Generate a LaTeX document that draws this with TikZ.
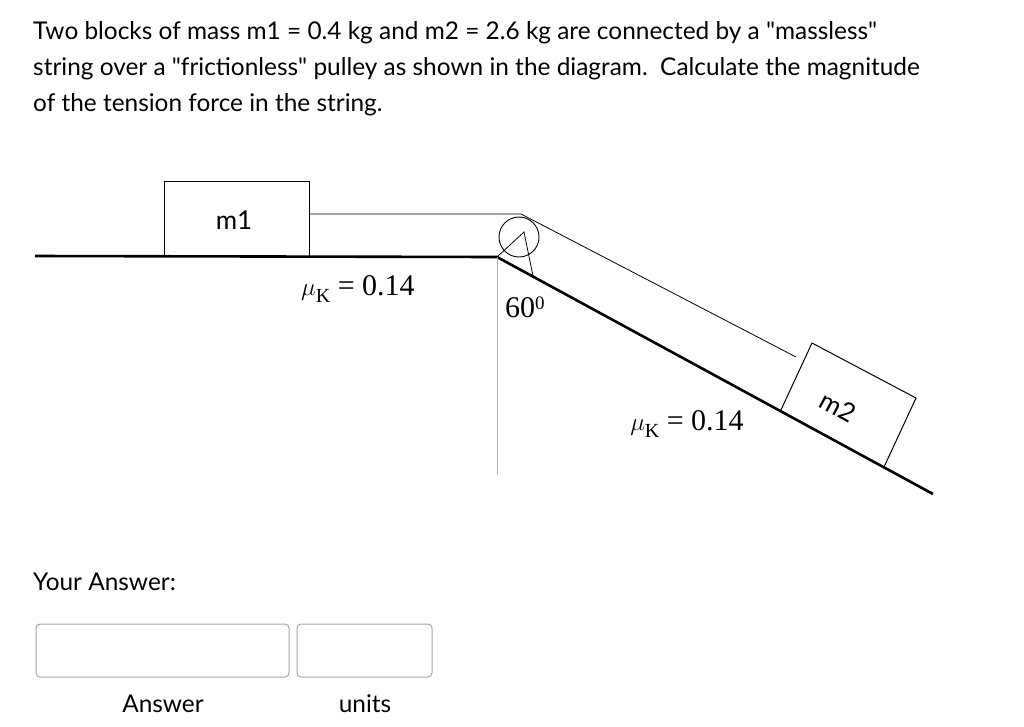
\documentclass[tikz,border=0pt]{standalone}
\usepackage{fontspec}
\setmainfont{Lato}
\newfontfamily\tnr{Liberation Serif}
\begin{document}
\begin{tikzpicture}[x=1pt,y=-1pt,
  q/.style={anchor=west,inner sep=0pt,font=\fontsize{24.4}{29}\selectfont},
  mu/.style={inner sep=0pt,font=\tnr\fontsize{30}{34}\selectfont},
  box/.style={draw=gray!70,rounded corners=4pt,line width=1pt}]
\useasboundingbox (0,0) rectangle (1024,726);
\node[q] (t1) at (33,33) {Two blocks of mass m1 = 0.4 kg and m2 = 2.6 kg are connected by a \textquotedbl massless\textquotedbl};
\node[q] (t2) at (33,69) {string over a \textquotedbl frictionless\textquotedbl\ pulley as shown in the diagram.\ \ Calculate the magnitude};
\node[q] (t3) at (33,105) {of the tension force in the string.};
% ground and incline
\coordinate (gl) at (35,256);
\coordinate (corner) at (497,257);
\coordinate (ie) at (933,494);
\draw[line width=2.6pt] (gl) -- (corner) -- (ie);
\draw[gray!60,line width=0.8pt] (corner) -- (497,475);
% m1 block
\draw[line width=0.9pt] (164,256) rectangle (309,181);
\node[font=\fontsize{26}{30}\selectfont] (m1) at (234,220) {m1};
% pulley
\node[draw,circle,minimum size=40pt,inner sep=0pt,line width=0.9pt] (p) at (519,237) {};
\draw[line width=0.8pt] (corner) -- (524,232) -- (533,276);
% string
\draw[line width=0.8pt] (309,214) -- (521,214) -- (796,357);
% m2 block
\draw[line width=1pt] (780,412) -- (812,343) -- (916,398) -- (884,467);
\node[rotate=-28.5,font=\fontsize{26}{30}\selectfont] (m2) at (838,407) {m2};
% labels
\node[mu] (mu1) at (358,289) {$\mu$\raisebox{-0.45ex}{\fontsize{20}{22}\selectfont K} = 0.14};
\node[mu] (mu2) at (687,424) {$\mu$\raisebox{-0.45ex}{\fontsize{20}{22}\selectfont K} = 0.14};
\node[mu,anchor=west] (ang) at (505,307) {60\raisebox{0.6ex}{\fontsize{19}{22}\selectfont 0}};
% answer area
\node[q] (ya) at (33,582) {Your Answer:};
\draw[box] (36,624) rectangle (289,677);
\draw[box] (297,624) rectangle (432,677);
\node[font=\fontsize{24.4}{29}\selectfont] (a) at (163,704) {Answer};
\node[font=\fontsize{24.4}{29}\selectfont] (u) at (365,704) {units};
\end{tikzpicture}
\end{document}
